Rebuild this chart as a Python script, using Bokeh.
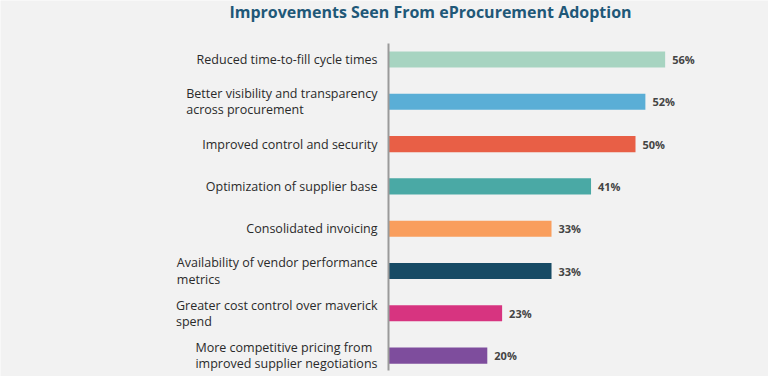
from bokeh.plotting import figure
from bokeh.models import ColumnDataSource, Range1d, Label
from bokeh.core.properties import value
from bokeh.embed import file_html
from bokeh.resources import INLINE

# ---- data ----
categories = [
    "Reduced time-to-fill cycle times",
    "Better visibility and transparency\nacross procurement",
    "Improved control and security",
    "Optimization of supplier base",
    "Consolidated invoicing",
    "Availability of vendor performance\nmetrics",
    "Greater cost control over maverick\nspend",
    "More competitive pricing from\nimproved supplier negotiations",
]
percent = [56, 52, 50, 41, 33, 33, 23, 20]
title_text = "Improvements Seen From eProcurement Adoption"

# ---- styles ----
palette = ["#a7d4c1", "#5aaed6", "#e85f46", "#4aa9a5", "#f99e5d", "#174b65", "#d73480", "#7e4d9d"]
BG = "#f2f2f2"
FONT = "Open Sans"

src = ColumnDataSource(dict(
    y=list(range(len(categories))),
    cat=categories,
    v=percent,
    lab=[f"{p}%" for p in percent],
    color=palette,
))

W, H = 768, 376
px_per_pct = 4.94
axis_px = 388
row_px = 42.3
first_px = 59

p = figure(width=W, height=H, output_backend="svg", toolbar_location=None,
           x_range=Range1d(-axis_px / px_per_pct, (W - axis_px) / px_per_pct),
           y_range=Range1d((H - first_px) / row_px, -first_px / row_px),
           min_border=0, min_border_left=0, min_border_right=0,
           min_border_top=0, min_border_bottom=0,
           background_fill_color=BG, border_fill_color=BG, outline_line_color=None)
p.axis.visible = False
p.grid.visible = False

p.hbar(y="y", left=0, right="v", height=0.38, fill_color="color", line_color=None, source=src)

# axis line
p.segment(x0=[0], y0=[-0.38], x1=[0], y1=[7.35], line_color="#9a9a9a", line_width=2)

# category labels
p.text(x=0, y="y", text="cat", source=src, x_offset=-11, anchor="center_right",
       text_align="left", text_baseline="middle", text_font=value(FONT),
       text_font_size="12.5px", text_color="#2a2a2a", text_line_height=0.96)

# value labels
p.text(x="v", y="y", text="lab", source=src, x_offset=7, text_align="left",
       text_baseline="middle", text_font=value(FONT), text_font_size="11px",
       text_font_style="bold", text_color="#444444")

p.add_layout(Label(x=430, y=H - 11, x_units="screen", y_units="screen", text=title_text,
                   text_align="center", text_baseline="middle", text_font=FONT,
                   text_font_size="16px", text_font_style="bold", text_color="#1f5878"))

open("out.html", "w").write(file_html(p, INLINE))
